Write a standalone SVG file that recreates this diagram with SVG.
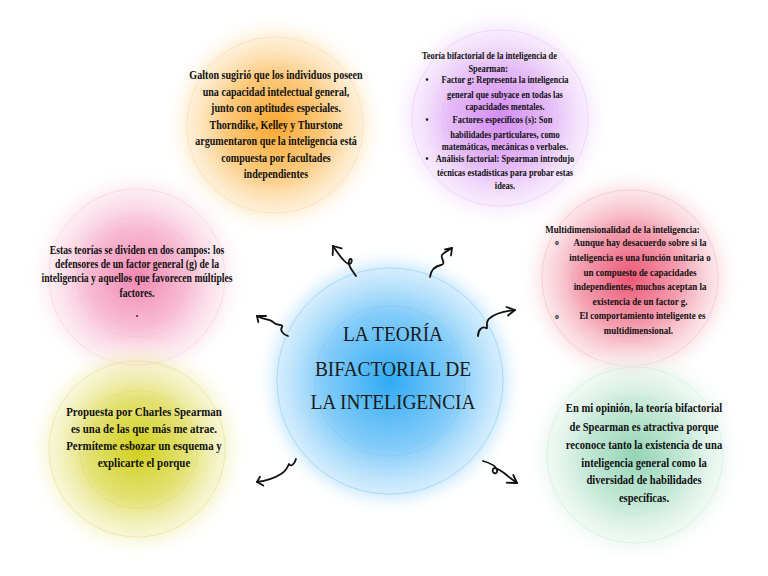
<svg xmlns="http://www.w3.org/2000/svg" width="768" height="576" viewBox="0 0 768 576">
<defs>
<radialGradient id="gOrange"><stop offset="0" stop-color="#f9a730"/><stop offset="0.45" stop-color="#fbc066" stop-opacity="0.85"/><stop offset="0.78" stop-color="#fde0b0" stop-opacity="0.5"/><stop offset="1" stop-color="#ffffff" stop-opacity="0"/></radialGradient>
<radialGradient id="gPurple"><stop offset="0" stop-color="#d38af2"/><stop offset="0.45" stop-color="#e0aef6" stop-opacity="0.85"/><stop offset="0.78" stop-color="#f0d8fb" stop-opacity="0.5"/><stop offset="1" stop-color="#ffffff" stop-opacity="0"/></radialGradient>
<radialGradient id="gRed"><stop offset="0" stop-color="#ec5674"/><stop offset="0.45" stop-color="#f28ea2" stop-opacity="0.85"/><stop offset="0.78" stop-color="#f9cbd4" stop-opacity="0.5"/><stop offset="1" stop-color="#ffffff" stop-opacity="0"/></radialGradient>
<radialGradient id="gPink"><stop offset="0" stop-color="#f286b0"/><stop offset="0.45" stop-color="#f6b0cb" stop-opacity="0.85"/><stop offset="0.78" stop-color="#fbdbe7" stop-opacity="0.5"/><stop offset="1" stop-color="#ffffff" stop-opacity="0"/></radialGradient>
<radialGradient id="gYellow"><stop offset="0" stop-color="#d0cf1c"/><stop offset="0.45" stop-color="#dedc5a" stop-opacity="0.85"/><stop offset="0.78" stop-color="#efeeae" stop-opacity="0.5"/><stop offset="1" stop-color="#ffffff" stop-opacity="0"/></radialGradient>
<radialGradient id="gGreen"><stop offset="0" stop-color="#94d4b5"/><stop offset="0.45" stop-color="#bae4cf" stop-opacity="0.85"/><stop offset="0.78" stop-color="#e0f3e9" stop-opacity="0.5"/><stop offset="1" stop-color="#ffffff" stop-opacity="0"/></radialGradient>
<radialGradient id="gBlue"><stop offset="0" stop-color="#2faaf4"/><stop offset="0.5" stop-color="#75c6f8" stop-opacity="0.9"/><stop offset="0.84" stop-color="#c4e6fc" stop-opacity="0.7"/><stop offset="1" stop-color="#ffffff" stop-opacity="0"/></radialGradient>
<style>
.t { font-family: "Liberation Serif", "Times New Roman", serif; font-weight: bold; fill: #111111; text-anchor: middle; }
.ttl { font-family: "Liberation Serif", "Times New Roman", serif; font-weight: normal; font-size: 22px; fill: #1a1a1a; text-anchor: middle; }
.ring { fill: none; stroke-width: 1; }
.arrow { fill: none; stroke: #111111; stroke-width: 1.8; stroke-linecap: round; stroke-linejoin: round; }
</style>
</defs>
<rect width="768" height="576" fill="#ffffff"/>

<g id="node-orange">
<circle cx="275" cy="125" r="112" fill="url(#gOrange)"/>
<circle cx="275" cy="125" r="88" class="ring" stroke="#f6c890" stroke-opacity="0.35"/>
<circle cx="275" cy="125" r="58" class="ring" stroke="#f6c890" stroke-opacity="0.25"/>
<g transform="translate(276,0) scale(0.84,1)" class="t" font-size="12">
<text x="0" y="79.5">Galton sugirió que los individuos poseen</text>
<text x="0" y="96">una capacidad intelectual general,</text>
<text x="0" y="112.5">junto con aptitudes especiales.</text>
<text x="0" y="129">Thorndike, Kelley y Thurstone</text>
<text x="0" y="145.5">argumentaron que la inteligencia está</text>
<text x="0" y="162">compuesta por facultades</text>
<text x="0" y="178.5">independientes</text>
</g>
</g>

<g id="node-purple">
<circle cx="500" cy="118" r="112" fill="url(#gPurple)"/>
<circle cx="500" cy="118" r="88" class="ring" stroke="#dcb0f0" stroke-opacity="0.35"/>
<circle cx="500" cy="118" r="58" class="ring" stroke="#dcb0f0" stroke-opacity="0.25"/>
<g transform="translate(505,0) scale(0.84,1)" class="t" font-size="10">
<text x="-18.5" y="59">Teoría bifactorial de la inteligencia de</text>
<text x="-20" y="71.6">Spearman:</text>
<text x="-92.9" y="83.3">•</text>
<text x="0" y="83.3">Factor g: Representa la inteligencia</text>
<text x="0" y="97.6">general que subyace en todas las</text>
<text x="0" y="110">capacidades mentales.</text>
<text x="-92.9" y="123.3">•</text>
<text x="-3" y="123.3">Factores específicos (s): Son</text>
<text x="0" y="137.6">habilidades particulares, como</text>
<text x="0" y="150">matemáticas, mecánicas o verbales.</text>
<text x="-92.9" y="162.3">•</text>
<text x="0" y="162.3">Análisis factorial: Spearman introdujo</text>
<text x="0" y="176">técnicas estadísticas para probar estas</text>
<text x="0" y="189">ideas.</text>
</g>
</g>

<g id="node-red">
<circle cx="630" cy="278" r="112" fill="url(#gRed)"/>
<circle cx="630" cy="278" r="88" class="ring" stroke="#eea0b0" stroke-opacity="0.35"/>
<circle cx="630" cy="279" r="58" class="ring" stroke="#eea0b0" stroke-opacity="0.3"/>
<g transform="translate(640,0) scale(0.84,1)" class="t" font-size="10.7">
<text x="-20.8" y="233">Multidimensionalidad de la inteligencia:</text>
<text x="-98.8" y="245.5" font-size="9">o</text>
<text x="0" y="246">Aunque hay desacuerdo sobre si la</text>
<text x="0" y="261">inteligencia es una función unitaria o</text>
<text x="0" y="276">un compuesto de capacidades</text>
<text x="0" y="290.2">independientes, muchos aceptan la</text>
<text x="0" y="305.2">existencia de un factor g.</text>
<text x="-98.8" y="319.5" font-size="9">o</text>
<text x="3" y="319.5">El comportamiento inteligente es</text>
<text x="-2" y="334.5">multidimensional.</text>
</g>
</g>

<g id="node-pink">
<circle cx="137" cy="277" r="112" fill="url(#gPink)"/>
<circle cx="137" cy="277" r="88" class="ring" stroke="#f4b4cc" stroke-opacity="0.35"/>
<circle cx="137" cy="277" r="60" class="ring" stroke="#f4b4cc" stroke-opacity="0.3"/>
<g transform="translate(137,0) scale(0.84,1)" class="t" font-size="11.5">
<text x="0" y="253.8">Estas teorías se dividen en dos campos: los</text>
<text x="0" y="268">defensores de un factor general (g) de la</text>
<text x="0" y="282">inteligencia y aquellos que favorecen múltiples</text>
<text x="0" y="297">factores.</text>
<text x="0" y="317">.</text>
</g>
</g>

<g id="node-yellow">
<circle cx="138" cy="449" r="112" fill="url(#gYellow)"/>
<circle cx="137" cy="449" r="88" class="ring" stroke="#e0dc80" stroke-opacity="0.5"/>
<circle cx="138.5" cy="449.5" r="59" class="ring" stroke="#dcd860" stroke-opacity="0.45"/>
<g transform="translate(144,0) scale(0.84,1)" class="t" font-size="13">
<text x="0" y="416">Propuesta por Charles Spearman</text>
<text x="0" y="433.3">es una de las que más me atrae.</text>
<text x="0" y="450">Permíteme esbozar un esquema y</text>
<text x="0" y="467">explicarte el porque</text>
</g>
</g>

<g id="node-green">
<circle cx="635" cy="455" r="112" fill="url(#gGreen)"/>
<circle cx="635" cy="455" r="88" class="ring" stroke="#b8e0cc" stroke-opacity="0.35"/>
<circle cx="635" cy="455" r="58" class="ring" stroke="#b8e0cc" stroke-opacity="0.3"/>
<g transform="translate(644,0) scale(0.84,1)" class="t" font-size="12.6">
<text x="0" y="412.3">En mi opinión, la teoría bifactorial</text>
<text x="0" y="430.7">de Spearman es atractiva porque</text>
<text x="0" y="449">reconoce tanto la existencia de una</text>
<text x="0" y="466.7">inteligencia general como la</text>
<text x="0" y="484">diversidad de habilidades</text>
<text x="0" y="502.3">específicas.</text>
</g>
</g>

<g id="node-center">
<circle cx="390" cy="381" r="135" fill="url(#gBlue)"/>
<circle cx="390" cy="381" r="113" class="ring" stroke="#8cccf6" stroke-opacity="0.6"/>
<circle cx="390" cy="381" r="75" class="ring" stroke="#7cc4f4" stroke-opacity="0.6"/>
<g transform="translate(393,0) scale(0.88,1)" class="ttl">
<text x="0" y="341.5">LA TEORÍA</text>
<text x="0" y="376.5">BIFACTORIAL DE</text>
<text x="0" y="409.2">LA INTELIGENCIA</text>
</g>
</g>

<g id="connectors">
<path class="arrow" d="M356,276 C351,269 348,265 349,261 C350,257 353,259 351,263 C348,267 341,258 333,246"/>
<path class="arrow" d="M332.7,255 L333,246 L341.7,248.3"/>
<path class="arrow" d="M430,277 C431,269 436,266 441,265 C447,264 440,258 442,255 C444,252 448,251 452,248"/>
<path class="arrow" d="M445,249.5 L452,248 L451,255.5"/>
<path class="arrow" d="M478,336 C478,330 482,326 486,328 C489,330 484,322 490,318 C496,313 505,311 515,310"/>
<path class="arrow" d="M506.5,307 L515,310 L508,315.5"/>
<path class="arrow" d="M288,336 C282,334 280,330 282,327 C284,324 276,326 273,322 C270,319 264,320 257,316"/>
<path class="arrow" d="M258.3,322 L257,316 L266,316"/>
<path class="arrow" d="M296,459 C294,465 291,467 289,464 C287,468 286,471 281,474 C273,479 265,481 257,482"/>
<path class="arrow" d="M260,476.7 L257,482 L263.3,485.5"/>
<path class="arrow" d="M483,461 C490,463 496,466 497,470 C498,475 491,474 493,469 C495,466 503,472 509,477 L517,483"/>
<path class="arrow" d="M506.7,482.7 L517,483 L513.3,475"/>
</g>
</svg>
